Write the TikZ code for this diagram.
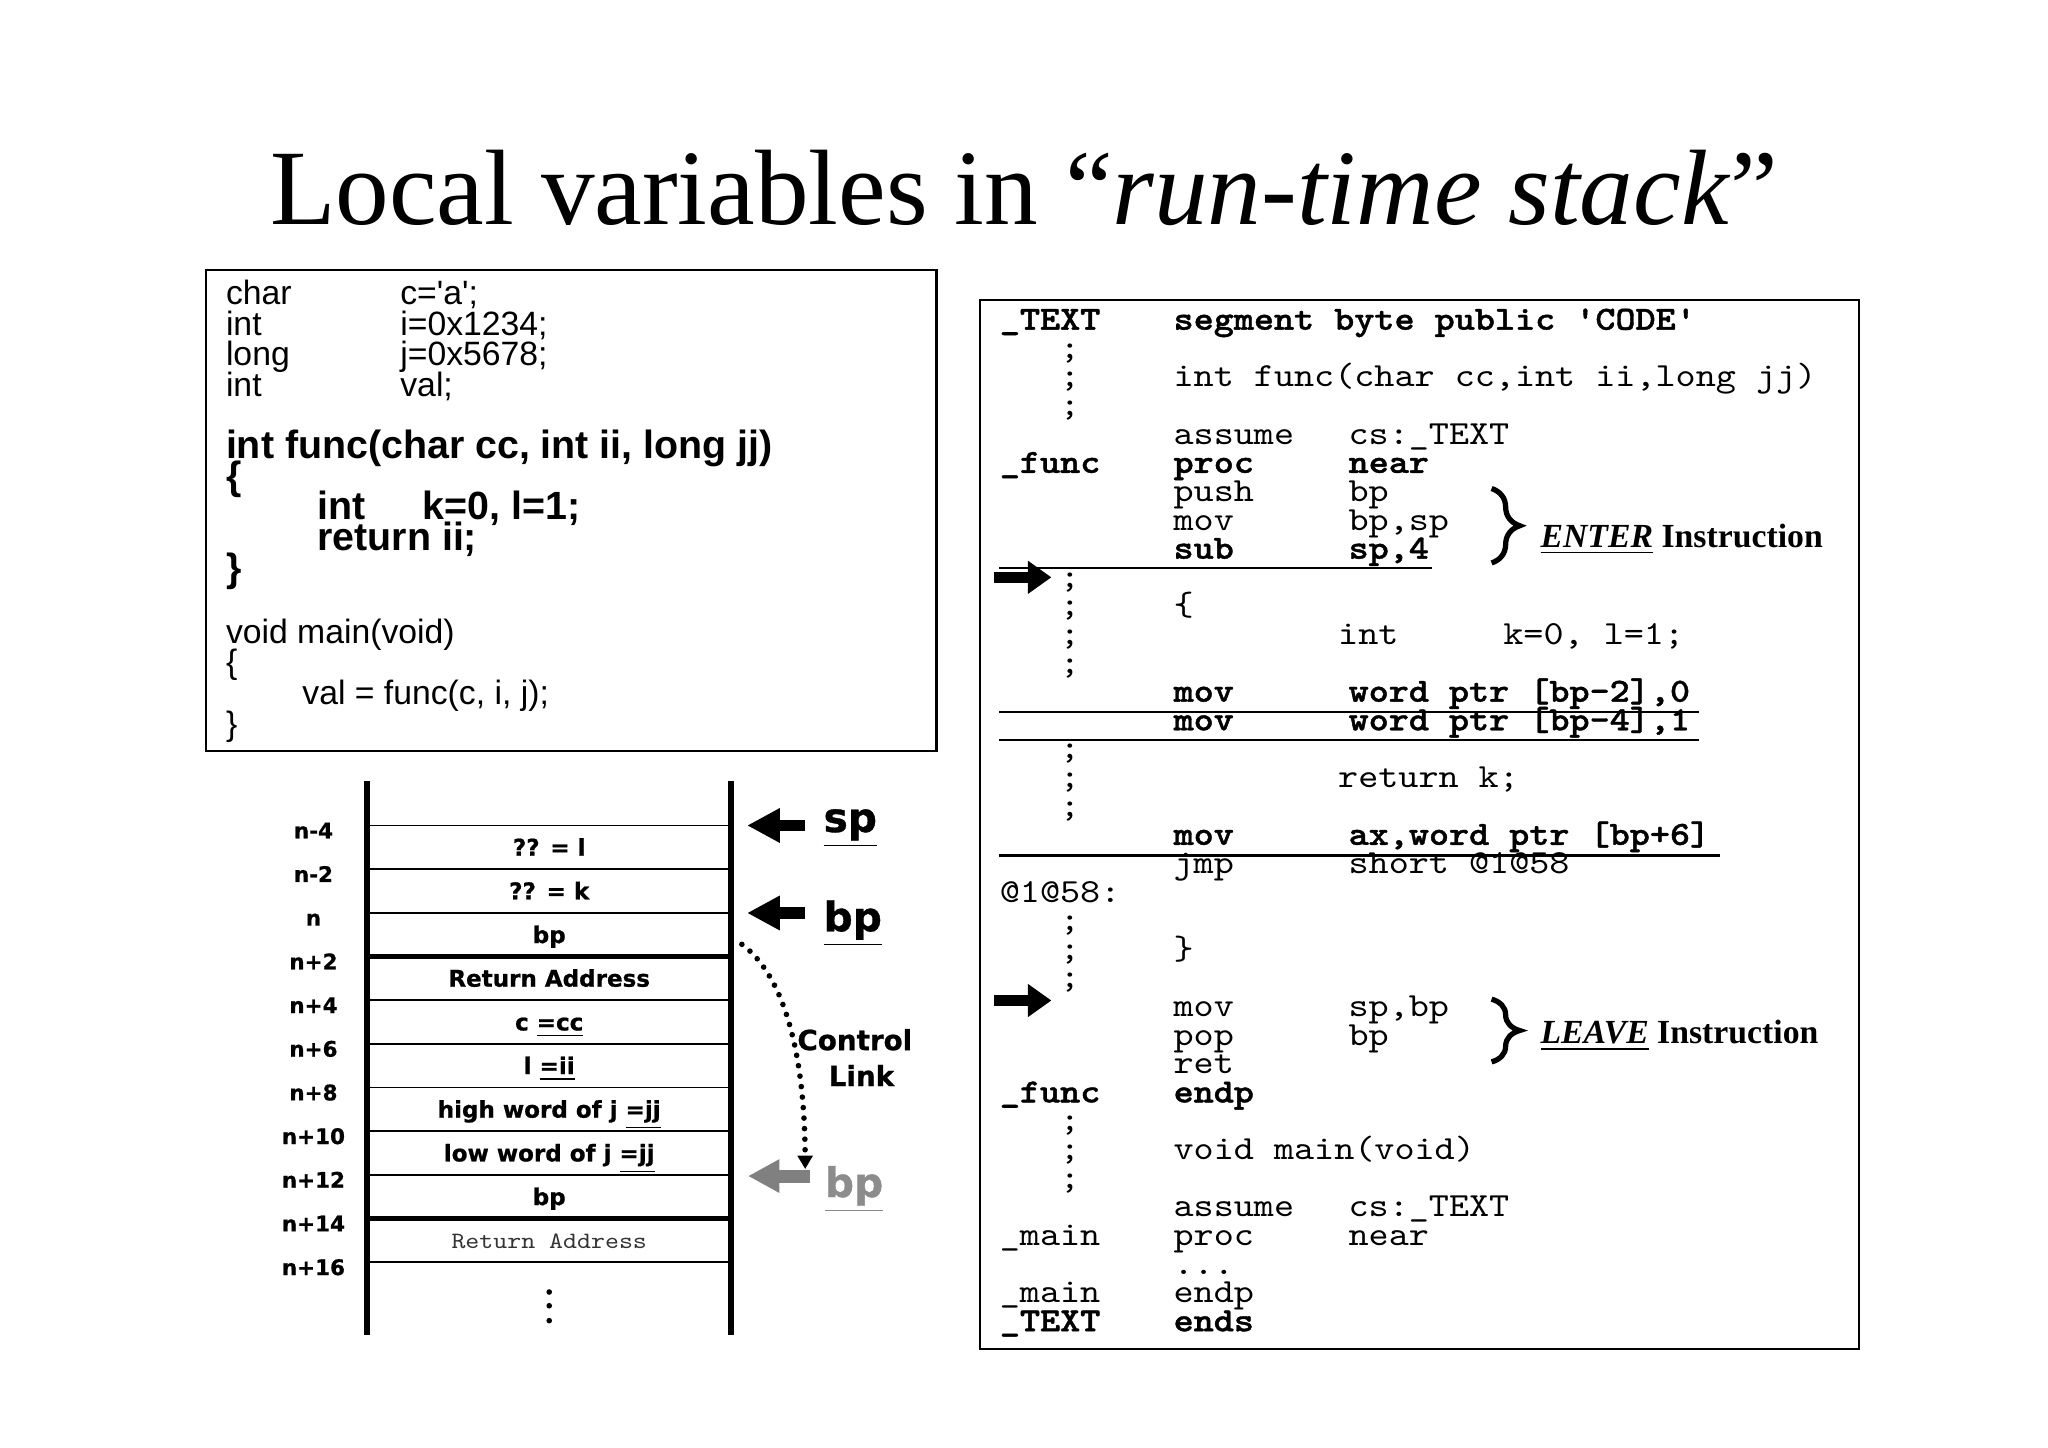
\documentclass[tikz,border=0pt]{standalone}
\usepackage{fontspec}
\setmainfont{Liberation Serif}
\newfontfamily\codefont[Ligatures=TeXOff]{Liberation Sans}
\newfontfamily\stackfont[BoldFeatures={FakeBold=0.8}]{DejaVu Sans}
\newfontfamily\asmfont{lmmono10-regular.otf}[BoldFont=lmmonolt10-bold.otf, BoldFeatures={FakeBold=1.2}, FakeStretch=1.134, Ligatures=TeXOff]
\usetikzlibrary{arrows.meta, decorations.pathreplacing}

\tikzset{
  codereg/.style={anchor=base west, inner sep=0pt, font=\codefont\fontsize{9.6}{11}\selectfont},
  codebf/.style={anchor=base west, inner sep=0pt, font=\codefont\bfseries\fontsize{11.2}{12}\selectfont},
  asmreg/.style={anchor=base west, inner sep=0pt, font=\asmfont\fontsize{9.6}{11}\selectfont},
  asmbf/.style={asmreg, font=\asmfont\bfseries\fontsize{9.6}{11}\selectfont},
  slot/.style={anchor=base, inner sep=0pt, font=\stackfont\bfseries\fontsize{6.55}{7}\selectfont},
  addr/.style={anchor=base, inner sep=0pt, font=\stackfont\bfseries\fontsize{6.1}{7}\selectfont},
  reglabel/.style={anchor=base west, inner sep=0pt, font=\stackfont\bfseries\fontsize{11.6}{13}\selectfont},
  linklabel/.style={anchor=base west, inner sep=0pt, font=\stackfont\bfseries\fontsize{7.9}{9}\selectfont},
  instr/.style={anchor=base west, inner sep=0pt, font=\fontsize{9.6}{11}\selectfont},
  stkarrow/.style={line width=3.3pt, -{Triangle[length=9.3pt,width=9.2pt]}},
  greyarrow/.style={draw=black!50, line width=3.7pt, -{Triangle[length=8.9pt,width=8.9pt]}},
  asmarrow/.style={line width=3.1pt, -{Triangle[length=6.7pt,width=9pt]}},
  ctrllink/.style={line width=1.6pt, line cap=round, dash pattern=on 0pt off 3pt, -{Triangle[length=3.8pt,width=4.2pt]}},
  bracemark/.style={decorate, decoration={brace, amplitude=8pt}, line width=1.5pt},
}

\begin{document}
\begin{tikzpicture}[x=0.0130612cm, y=-0.0130612cm]
    \useasboundingbox (0,0) rectangle (1568,1108);

    % title
    \node[anchor=base, inner sep=0pt, font=\fontsize{30.5}{34}\selectfont] (title) at (784,172) {Local variables in “\textit{run-time stack}”};

    % C source box
    \draw[line width=0.6pt] (158,207) rectangle (717,575);
    \node[codereg] (d1a) at (172.5,233) {char};
    \node[codereg] (d1b) at (306,233) {c='a';};
    \node[codereg] (d2a) at (172.5,256.6) {int};
    \node[codereg] (d2b) at (306,256.6) {i=0x1234;};
    \node[codereg] (d3a) at (172.5,280.1) {long};
    \node[codereg] (d3b) at (306,280.1) {j=0x5678;};
    \node[codereg] (d4a) at (172.5,303.7) {int};
    \node[codereg] (d4b) at (306,303.7) {val;};
    \node[codebf] (f1) at (172.5,350.9) {int func(char cc, int ii, long jj)};
    \node[codebf] (f2) at (172.5,374.4) {\{};
    \node[codebf] (f3a) at (242.5,398) {int};
    \node[codebf] (f3b) at (323,398) {k=0, l=1;};
    \node[codebf] (f4) at (242.5,421.6) {return ii;};
    \node[codebf] (f5) at (172.5,445.1) {\}};
    \node[codereg] (m1) at (172.5,492.3) {void main(void)};
    \node[codereg] (m2) at (172.5,515.8) {\{};
    \node[codereg] (m3) at (231,539.4) {val = func(c, i, j);};
    \node[codereg] (m4) at (172.5,563) {\}};

    % stack frame
    \draw[line width=1.7pt] (281,598) -- (281,1022);
    \draw[line width=1.7pt] (560,598) -- (560,1022);
    \foreach \i in {0,1,2,4,5,6,7,8,10}
        \draw[line width=0.5pt] (281,{632+33.44*\i}) -- (560,{632+33.44*\i});
    \foreach \i in {3,9}
        \draw[line width=1.3pt] (281,{632+33.44*\i}) -- (560,{632+33.44*\i});
    \foreach \i/\lab in {0/n-4, 1/n-2, 2/n, 3/n+2, 4/n+4, 5/n+6, 6/n+8, 7/n+10, 8/n+12, 9/n+14, 10/n+16}
        \node[addr] (n\i) at (240,{641.8+33.44*\i}) {\lab};
    \node[slot] (s1) at (420.5,655.1) {?? = l};
    \node[slot] (s2) at (420.5,688.5) {?? = k};
    \node[slot] (s3) at (420.5,722.0) {bp};
    \node[slot] (s4) at (420.5,755.4) {Return Address};
    \node[slot] (s5) at (420.5,788.9) {c \underline{=cc}};
    \node[slot] (s6) at (420.5,822.3) {l \underline{=ii}};
    \node[slot] (s7) at (420.5,855.7) {high word of j \underline{=jj}};
    \node[slot] (s8) at (420.5,889.2) {low word of j \underline{=jj}};
    \node[slot] (s9) at (420.5,922.6) {bp};
    \node[anchor=base, inner sep=0pt, text=black!80, font=\asmfont\fontsize{6.67}{8}\selectfont] (s10) at (420.5,956.1) {Return Address};
    \fill (420.5,989.2) circle (0.8pt);
    \fill (420.5,999.7) circle (0.8pt);
    \fill (420.5,1011.1) circle (0.8pt);

    % sp / bp pointers
    \node[reglabel] (sp) at (630,637) {\underline{sp}};
    \node[reglabel] (bp) at (630,713) {\underline{bp}};
    \node[reglabel, text=black!45] (oldbp) at (631,916.5) {\underline{bp}};
    \coordinate (spTail) at (616,632);
    \coordinate (spTip) at (572,632);
    \coordinate (bpTail) at (616,699);
    \coordinate (bpTip) at (572,699);
    \coordinate (oldTail) at (620,900.4);
    \coordinate (oldTip) at (572.7,900.4);
    \draw[stkarrow] (spTail) -- (spTip);
    \draw[stkarrow] (bpTail) -- (bpTip);
    \draw[greyarrow] (oldTail) -- (oldTip);

    % control link
    \coordinate (linkStart) at (568,723);
    \coordinate (linkEnd) at (616.5,895);
    \draw[ctrllink] (linkStart) .. controls (598,745) and (616,800) .. (linkEnd);
    \node[linklabel] (ctrl) at (610,804) {Control};
    \node[linklabel] (link) at (634,831.5) {Link};

    % assembly listing box
    \draw[line width=0.6pt] (750,230) rectangle (1423,1033);
    \foreach \r in {2,3,4,10,11,12,13,16,17,18,22,23,24,29,30,31}
        \node[asmreg] (semi\r) at (811,{252.4+21.91*(\r-1)}) {;};
    \node[asmbf] (a1a) at (765,252.4) {\_TEXT};
    \node[asmbf] (a1b) at (898,252.4) {segment byte public 'CODE'};
    \node[asmreg] (a3) at (898,296.2) {int func(char cc,int ii,long jj)};
    \node[asmreg] (a5a) at (898,340.0) {assume};
    \node[asmreg] (a5b) at (1032,340.0) {cs:\_TEXT};
    \node[asmbf] (a6a) at (765,362.0) {\_func};
    \node[asmbf] (a6b) at (898,362.0) {proc};
    \node[asmbf] (a6c) at (1032,362.0) {near};
    \node[asmreg] (a7a) at (898,383.9) {push};
    \node[asmreg] (a7b) at (1032,383.9) {bp};
    \node[asmreg] (a8a) at (898,405.8) {mov};
    \node[asmreg] (a8b) at (1032,405.8) {bp,sp};
    \node[asmbf] (a9a) at (898,427.7) {sub};
    \node[asmbf] (a9b) at (1032,427.7) {sp,4};
    \node[asmreg] (a11) at (898,471.5) {\{};
    \node[asmreg] (a12a) at (1024,493.4) {int};
    \node[asmreg] (a12b) at (1150.5,493.4) {k=0, l=1;};
    \node[asmbf] (a14a) at (898,537.2) {mov};
    \node[asmbf] (a14b) at (1032,537.2) {word ptr [bp-2],0};
    \node[asmbf] (a15a) at (898,559.1) {mov};
    \node[asmbf] (a15b) at (1032,559.1) {word ptr [bp-4],1};
    \node[asmreg] (a17) at (1024,603.0) {return k;};
    \node[asmbf] (a19a) at (898,646.8) {mov};
    \node[asmbf] (a19b) at (1032,646.8) {ax,word ptr [bp+6]};
    \node[asmreg] (a20a) at (898,668.7) {jmp};
    \node[asmreg] (a20b) at (1032,668.7) {short @1@58};
    \node[asmreg] (a21) at (765,690.6) {@1@58:};
    \node[asmreg] (a23) at (898,734.4) {\}};
    \node[asmreg] (a25a) at (898,778.2) {mov};
    \node[asmreg] (a25b) at (1032,778.2) {sp,bp};
    \node[asmreg] (a26a) at (898,800.1) {pop};
    \node[asmreg] (a26b) at (1032,800.1) {bp};
    \node[asmreg] (a27) at (898,822.1) {ret};
    \node[asmbf] (a28a) at (765,844.0) {\_func};
    \node[asmbf] (a28b) at (898,844.0) {endp};
    \node[asmreg] (a30) at (898,887.8) {void main(void)};
    \node[asmreg] (a32a) at (898,931.6) {assume};
    \node[asmreg] (a32b) at (1032,931.6) {cs:\_TEXT};
    \node[asmreg] (a33a) at (765,953.5) {\_main};
    \node[asmreg] (a33b) at (898,953.5) {proc};
    \node[asmreg] (a33c) at (1032,953.5) {near};
    \node[asmreg] (a34) at (898,975.4) {...};
    \node[asmreg] (a35a) at (765,997.3) {\_main};
    \node[asmreg] (a35b) at (898,997.3) {endp};
    \node[asmbf] (a36a) at (765,1019.2) {\_TEXT};
    \node[asmbf] (a36b) at (898,1019.2) {ends};

    % marker rules under the listing lines
    \draw[line width=0.6pt] (765,435) -- (1096,435);
    \draw[line width=0.6pt] (765,545) -- (1301,545);
    \draw[line width=0.6pt] (765,566.6) -- (1301,566.6);
    \draw[line width=0.6pt] (765,655) -- (1317,655);

    % pointers into the listing
    \coordinate (enterTail) at (761,442);
    \coordinate (enterTip) at (805,442);
    \coordinate (leaveTail) at (761,766);
    \coordinate (leaveTip) at (805,766);
    \draw[asmarrow] (enterTail) -- (enterTip);
    \draw[asmarrow] (leaveTail) -- (leaveTip);

    % ENTER / LEAVE braces
    \draw[bracemark] (1142,374) -- (1142,431);
    \node[instr] (enter) at (1179,419) {\underline{\textbf{\textit{ENTER}}} \textbf{Instruction}};
    \draw[bracemark] (1142,765) -- (1142,813);
    \node[instr] (leave) at (1179,799) {\underline{\textbf{\textit{LEAVE}}} \textbf{Instruction}};
\end{tikzpicture}
\end{document}
